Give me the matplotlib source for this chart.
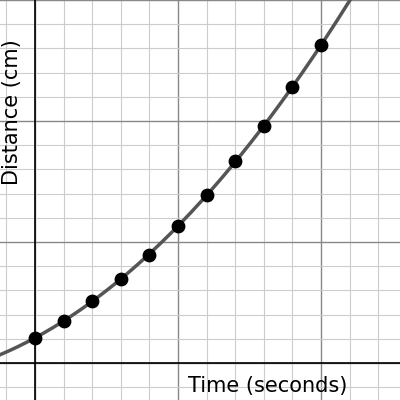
import numpy as np
import matplotlib
matplotlib.use("Agg")
import matplotlib.pyplot as plt

time_s = [0, 1, 2, 3, 4, 5, 6, 7, 8, 9, 10]
distance_cm = [1.03, 1.74, 2.56, 3.47, 4.46, 5.66, 6.94, 8.35, 9.79, 11.4, 13.14]

fig = plt.figure(figsize=(4, 4), dpi=100)
ax = fig.add_axes([0, 0, 1, 1])
x0, x1 = -1.22, 12.76
y0, y1 = -1.53, 15.0
ax.set_xlim(x0, x1)
ax.set_ylim(y0, y1)
for v in np.arange(-1, 13, 1):
    ax.axvline(v, color="#cccccc" if v % 5 else "#888888", lw=0.8 if v % 5 else 1.0, zorder=0)
for v in np.arange(-1, 16, 1):
    ax.axhline(v, color="#cccccc" if v % 5 else "#888888", lw=0.8 if v % 5 else 1.0, zorder=0)
ax.axvline(0, color="black", lw=1.2, zorder=1)
ax.axhline(0, color="black", lw=1.2, zorder=1)

c = np.polyfit(time_s, distance_cm, 2)
xs = np.linspace(x0, 12, 300)
ax.plot(xs, np.polyval(c, xs), color="#555555", lw=2.5, zorder=2)
ax.scatter(time_s, distance_cm, s=80, color="black", zorder=3)

for s in ax.spines.values():
    s.set_visible(False)
ax.set_xticks([]); ax.set_yticks([])
fig.text(0.67, 0.035, "Time (seconds)", fontsize=15, ha="center", va="center")
fig.text(0.03, 0.72, "Distance (cm)", fontsize=15, ha="center", va="center", rotation=90)
fig.savefig("out.png", dpi=100)
